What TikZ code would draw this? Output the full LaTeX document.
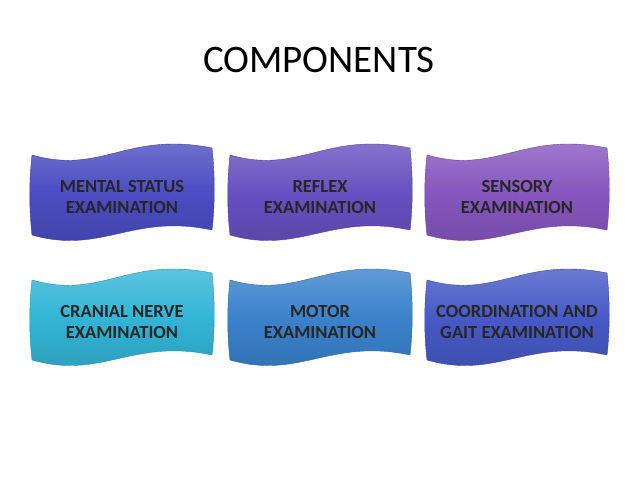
\documentclass[tikz,border=0pt]{standalone}
\usepackage{fontspec}
\setmainfont{Carlito}
\begin{document}
\begin{tikzpicture}[x=1pt,y=-1pt,
  lbl/.style={font=\bfseries\fontsize{18.5}{21}\selectfont,align=center,text=black!85}]
\useasboundingbox[fill=white] (0,0) rectangle (638,478);
\node (title) at (319,60) {\fontsize{39}{44}\selectfont COMPONENTS};
\newcommand\wavebox[5]{%
  \shade[top color=#3!75!white,bottom color=#3!85!black,middle color=#3,draw=#3!80!black,line width=0.4pt]
   (#1,#2+10) .. controls (#1+70,#2+30) and (#1+95,#2-14) .. (#1+180,#2+3)
   .. controls (#1+183,#2+30) and (#1+183,#2+60) .. (#1+180,#2+85)
   .. controls (#1+100,#2+68) and (#1+70,#2+110) .. (#1,#2+90)
   .. controls (#1-3,#2+63) and (#1-3,#2+37) .. cycle;
  \node[lbl] (#4) at (#1+90,#2+52) {#5};}
\definecolor{c1}{HTML}{4B4DC2}
\definecolor{c2}{HTML}{6750C0}
\definecolor{c3}{HTML}{8656BE}
\definecolor{c4}{HTML}{33B5D6}
\definecolor{c5}{HTML}{3A82CC}
\definecolor{c6}{HTML}{4759C6}
\wavebox{32}{145}{c1}{b1}{MENTAL STATUS\\EXAMINATION}
\wavebox{230}{145}{c2}{b2}{REFLEX\\EXAMINATION}
\wavebox{427}{145}{c3}{b3}{SENSORY\\EXAMINATION}
\wavebox{32}{270}{c4}{b4}{CRANIAL NERVE\\EXAMINATION}
\wavebox{230}{270}{c5}{b5}{MOTOR\\EXAMINATION}
\wavebox{427}{270}{c6}{b6}{COORDINATION AND\\GAIT EXAMINATION}
\end{tikzpicture}
\end{document}
